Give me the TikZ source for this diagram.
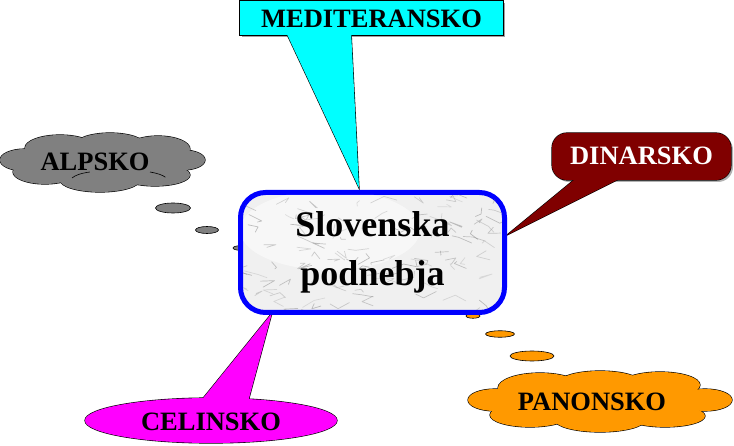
\documentclass[tikz,border=0pt]{standalone}
\usepackage{fontspec}
\setmainfont{Liberation Serif}
\usetikzlibrary{shapes.geometric,calc}
\definecolor{medcyan}{RGB}{0,255,255}
\definecolor{dinred}{RGB}{128,0,0}
\definecolor{celmag}{RGB}{255,0,255}
\definecolor{panorange}{RGB}{255,153,0}
\definecolor{alpgray}{RGB}{128,128,128}
\definecolor{boxblue}{RGB}{0,0,255}
\tikzset{
  lbl/.style={font=\bfseries\fontsize{26.5}{30}\selectfont, inner sep=0pt},
  bubble/.style={ellipse, draw=black, line width=0.6pt, inner sep=0pt},
  outline/.style={draw=black, line width=1.2pt},
}
\begin{document}
\begin{tikzpicture}[x=1pt,y=-1pt]
\useasboundingbox (0,0) rectangle (734,446);
\fill[white] (0,0) rectangle (734,446);

% ---------- MEDITERANSKO callout ----------
\coordinate (medtip) at (359,188);
\fill[gray!75] (242,3) rectangle (505,37);
\path[outline] (240,1) rectangle (503,35);
\path[outline] (285,30) -- (medtip) -- (351,30) -- cycle;
\fill[medcyan] (240,1) rectangle (503,35);
\fill[medcyan] (285,30) -- (medtip) -- (351,30) -- cycle;
\node[lbl] (med) at (371.5,19) {MEDITERANSKO};

% ---------- DINARSKO callout ----------
\coordinate (dintip) at (507,235);
\fill[gray!60, rounded corners=15] (554,135) rectangle (733,182);
\path[outline, rounded corners=15] (552,133) rectangle (731,180);
\path[outline] (580,175) -- (dintip) -- (627,175) -- cycle;
\fill[dinred, rounded corners=15] (552,133) rectangle (731,180);
\fill[dinred] (580,175) -- (dintip) -- (627,175) -- cycle;
\node[lbl, text=white] (din) at (641.5,156) {DINARSKO};

% ---------- CELINSKO callout ----------
\coordinate (celtip) at (272,313);
\path[outline] (211,420.5) ellipse [x radius=126, y radius=22.5];
\path[outline] (200,402) -- (celtip) -- (248,402) -- cycle;
\fill[celmag] (211,420.5) ellipse [x radius=126, y radius=22.5];
\fill[celmag] (200,402) -- (celtip) -- (248,402) -- cycle;
\node[lbl] (cel) at (211,422) {CELINSKO};

% ---------- ALPSKO cloud ----------
\foreach \cx/\cy/\rx/\ry in {25/160/25/11, 60/148/35/13, 110/145/35/12, 158/149/32/13, 183/160/22/10,
                             45/172/32/12, 100/180/40/12, 155/175/35/11, 102/162/80/18}
  \path[outline] (\cx,\cy) ellipse [x radius=\rx, y radius=\ry];
\foreach \cx/\cy/\rx/\ry in {25/160/25/11, 60/148/35/13, 110/145/35/12, 158/149/32/13, 183/160/22/10,
                             45/172/32/12, 100/180/40/12, 155/175/35/11, 102/162/80/18}
  \fill[alpgray] (\cx,\cy) ellipse [x radius=\rx, y radius=\ry];
\draw[black, line width=0.6pt] (72,178) arc [start angle=200, end angle=250, x radius=30, y radius=10];
\draw[black, line width=0.6pt] (150,172) arc [start angle=-60, end angle=-20, x radius=35, y radius=10];
\node[lbl] (alp) at (95,162) {ALPSKO};
\node[bubble, fill=alpgray, minimum width=35, minimum height=10] (alpb1) at (173,208) {};
\node[bubble, fill=alpgray, minimum width=23, minimum height=7] (alpb2) at (207,230) {};
\node[bubble, fill=alpgray, minimum width=14, minimum height=4.5] (alpb3) at (240,248) {};

% ---------- PANONSKO cloud ----------
\foreach \cx/\cy/\rx/\ry in {495/400/27/11, 540/388/42/15, 600/382/40/11, 660/385/40/13, 705/400/27/11,
                             530/415/40/12, 600/420/45/12, 665/416/40/11, 600/402/110/20}
  \path[outline] (\cx,\cy) ellipse [x radius=\rx, y radius=\ry];
\foreach \cx/\cy/\rx/\ry in {495/400/27/11, 540/388/42/15, 600/382/40/11, 660/385/40/13, 705/400/27/11,
                             530/415/40/12, 600/420/45/12, 665/416/40/11, 600/402/110/20}
  \fill[panorange] (\cx,\cy) ellipse [x radius=\rx, y radius=\ry];
\node[lbl] (pan) at (592,402) {PANONSKO};
\node[bubble, fill=panorange, minimum width=14, minimum height=4.5] (panb1) at (473,316) {};
\node[bubble, fill=panorange, minimum width=29, minimum height=6.5] (panb2) at (500,334) {};
\node[bubble, fill=panorange, minimum width=44, minimum height=10] (panb3) at (532,356) {};

% ---------- central box ----------
\node[draw=boxblue, fill=gray!12, line width=5pt, rounded corners=25pt,
      minimum width=264, minimum height=120, inner sep=0pt] (center) at (372.5,252.5) {};
\begin{scope}
  \clip[rounded corners=20pt] ($(center.north west)+(5,5)$) rectangle ($(center.south east)+(-5,-5)$);
  \fill[white, opacity=0.5] (330,230) ellipse [x radius=90, y radius=40];
  \pgfmathsetseed{4242}
  \foreach \i in {1,...,110} {
    \pgfmathsetmacro{\ax}{243+rnd*262}
    \pgfmathsetmacro{\ay}{195+rnd*115}
    \pgfmathsetmacro{\dx}{rnd*28-14}
    \pgfmathsetmacro{\dy}{rnd*14-7}
    \pgfmathsetmacro{\ex}{rnd*28-14}
    \pgfmathsetmacro{\ey}{rnd*14-7}
    \pgfmathsetmacro{\gr}{25+rnd*30}
    \draw[black!\gr, line width=0.7pt, opacity=0.45, line cap=round, line join=round]
      (\ax,\ay) -- ++(\dx,\dy) -- ++(\ex,\ey);
  }
\end{scope}
\node[font=\bfseries\fontsize{36}{49}\selectfont, align=center, inner sep=0pt] (centertext) at (center) {Slovenska\\podnebja};
\end{tikzpicture}
\end{document}
